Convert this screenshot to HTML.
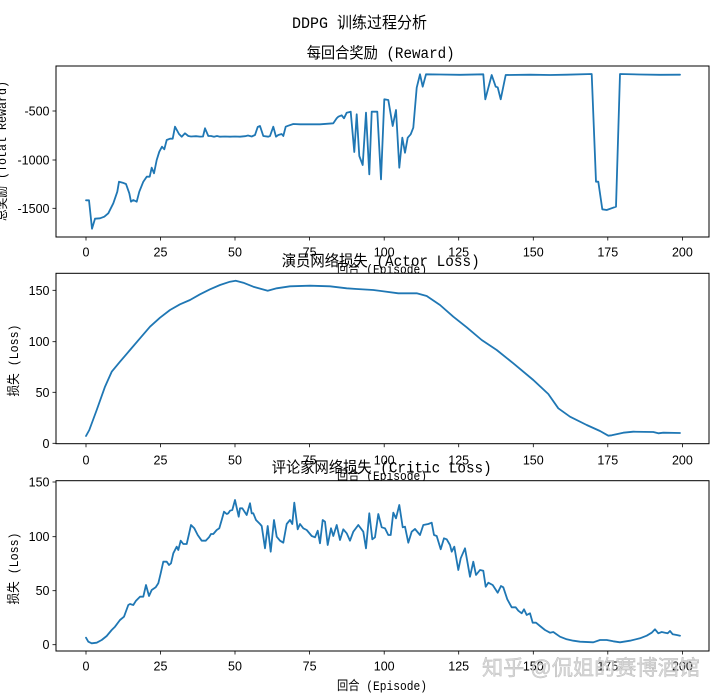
<!DOCTYPE html>
<html><head><meta charset="utf-8"><style>
html,body{margin:0;padding:0;background:#fff;}
svg{display:block;}
.t{font-family:"Liberation Mono","Noto Sans CJK SC",monospace;fill:#000;}
.k{font-family:"Liberation Sans","Noto Sans CJK SC",sans-serif;font-size:12.5px;fill:#000;}
.l{font-family:"Liberation Mono","Noto Sans CJK SC",monospace;font-size:13px;fill:#000;}
.ln{fill:none;stroke:#1f77b4;stroke-width:1.8;stroke-linejoin:round;stroke-linecap:round;}
.sp{fill:none;stroke:#000;stroke-width:1;}
.tk{stroke:#000;stroke-width:0.8;}
</style></head><body>
<svg width="720" height="698" viewBox="0 0 720 698" xmlns="http://www.w3.org/2000/svg">
<rect width="720" height="698" fill="#fff"/>
<text class="t" x="292" y="28" font-size="16" textLength="135" lengthAdjust="spacingAndGlyphs">DDPG 训练过程分析</text>

<!-- AXES 1 -->
<rect x="56" y="66" width="653" height="171" fill="#fff"/>
<polyline class="ln" points="86,200.3 89,200.3 92,228.7 95,218.7 100,218.3 104.3,216.7 108.3,213.3 113.3,203.3 117.3,191.7 119,181.7 122.7,182.7 126,184 129.3,193.3 131,201.7 133.3,200 136.7,201.7 139.3,191.7 143.3,181.7 146.7,176.7 149.7,176.7 151.7,167.7 154,173.3 156.7,160 159.3,151.7 162,146.7 164.3,149.3 166.7,140 170,138.7 172.7,138.7 175,126.7 179,134 181.7,136.7 185,133.3 188.3,136 191,136.5 196,136.2 200,136.6 203,136.5 205,128.3 208.3,136 211,136 214,136.7 217,136 220,136.7 225,136.5 230,136.7 235,136.5 240,136.7 245,136.2 248,135.5 251.7,136.5 255,135 257.7,127 260,126 263.3,136 268.3,136.7 270,136 273.3,126.7 276,136.7 278.3,135 281.7,134 283.3,136 285.7,126.7 288.3,125.7 293.3,124 300,124.3 310,124.3 320,124.3 333.3,123.3 336.7,118.3 338.3,116.7 341.7,115.3 344,118.3 346.7,112.7 350.7,111.7 354.3,152 356.7,114.3 359.3,156 362.7,165 366,112.7 369.3,174.3 371.7,111.7 377.3,111.7 381,179.3 384.3,99.3 388.3,100 392.7,126 396,110 399.3,167.7 402.3,137.7 405,152.7 407.7,137.7 410.7,134.3 413.3,127.7 416.7,87.7 420,74.3 422.7,86.7 426,74.3 440,74.5 460,74.8 483.3,74.3 485.3,99.3 491.7,75 495.7,86.7 497.7,87.3 500.7,99.3 505.7,75 530,74.7 550,75 566.7,74.7 591.7,74 596,181.7 598.3,181.7 602.3,209.3 606.7,210 616,206.7 620,74 640,74.5 660,74.8 680,74.7"/>
<rect class="sp" x="56" y="66" width="653" height="171"/>
<g class="tk">
<line x1="86" y1="237" x2="86" y2="240.5"/><line x1="160.5" y1="237" x2="160.5" y2="240.5"/><line x1="235" y1="237" x2="235" y2="240.5"/><line x1="309.6" y1="237" x2="309.6" y2="240.5"/><line x1="384.2" y1="237" x2="384.2" y2="240.5"/><line x1="458.7" y1="237" x2="458.7" y2="240.5"/><line x1="533.3" y1="237" x2="533.3" y2="240.5"/><line x1="607.8" y1="237" x2="607.8" y2="240.5"/><line x1="682.4" y1="237" x2="682.4" y2="240.5"/>
<line x1="52.5" y1="111" x2="56" y2="111"/><line x1="52.5" y1="160" x2="56" y2="160"/><line x1="52.5" y1="208.3" x2="56" y2="208.3"/>
</g>
<g class="k" text-anchor="middle">
<text x="86" y="256.5">0</text><text x="160.5" y="256.5">25</text><text x="235" y="256.5">50</text><text x="309.6" y="256.5">75</text><text x="384.2" y="256.5">100</text><text x="458.7" y="256.5">125</text><text x="533.3" y="256.5">150</text><text x="607.8" y="256.5">175</text><text x="682.4" y="256.5">200</text>
</g>
<g class="k" text-anchor="end">
<text x="49.5" y="115.5">-500</text><text x="49.5" y="164.5">-1000</text><text x="49.5" y="212.8">-1500</text>
</g>
<text class="t" x="306.7" y="58" font-size="15.5" textLength="148" lengthAdjust="spacingAndGlyphs">每回合奖励 (Reward)</text>
<text class="l" transform="translate(6,151) rotate(-90)" text-anchor="middle" textLength="140" lengthAdjust="spacingAndGlyphs">总奖励 (Total Reward)</text>
<text class="l" x="337" y="273.3" textLength="90" lengthAdjust="spacingAndGlyphs">回合 (Episode)</text>

<!-- AXES 2 -->
<rect x="56" y="273.3" width="653" height="170.4" fill="#fff"/>
<polyline class="ln" points="86,436 89.3,430 96.7,410 105,386.7 111.7,371.7 120,361.7 130,350 140,338.3 150,326.7 160,317.7 170,310 180,304.3 190,300 200,294.3 210,289.3 220,285 230,281.7 235.7,280.7 243.3,282.7 253.3,286.7 267.7,290.7 276.7,288.3 290,286.3 310,285.7 330,286.3 346.7,288.3 356.7,289 373.3,290 398.3,293.3 416.7,293.3 426.7,296 440,305 453.3,316.7 466.7,327.3 481.7,340 496.7,350 513.3,363.3 533.3,380 548.3,394 558.3,408.3 570,416.7 586.7,425 600,431 608.3,435.7 611.7,435.3 623.3,432.7 633.3,431.7 653.3,432 658.3,433.3 663.3,432.7 680,433"/>
<rect class="sp" x="56" y="273.3" width="653" height="170.4"/>
<g class="tk">
<line x1="86" y1="443.7" x2="86" y2="447.2"/><line x1="160.5" y1="443.7" x2="160.5" y2="447.2"/><line x1="235" y1="443.7" x2="235" y2="447.2"/><line x1="309.6" y1="443.7" x2="309.6" y2="447.2"/><line x1="384.2" y1="443.7" x2="384.2" y2="447.2"/><line x1="458.7" y1="443.7" x2="458.7" y2="447.2"/><line x1="533.3" y1="443.7" x2="533.3" y2="447.2"/><line x1="607.8" y1="443.7" x2="607.8" y2="447.2"/><line x1="682.4" y1="443.7" x2="682.4" y2="447.2"/>
<line x1="52.5" y1="443.3" x2="56" y2="443.3"/><line x1="52.5" y1="392.3" x2="56" y2="392.3"/><line x1="52.5" y1="341.7" x2="56" y2="341.7"/><line x1="52.5" y1="290.3" x2="56" y2="290.3"/>
</g>
<g class="k" text-anchor="middle">
<text x="86" y="464.5">0</text><text x="160.5" y="464.5">25</text><text x="235" y="464.5">50</text><text x="309.6" y="464.5">75</text><text x="384.2" y="464.5">100</text><text x="458.7" y="464.5">125</text><text x="533.3" y="464.5">150</text><text x="607.8" y="464.5">175</text><text x="682.4" y="464.5">200</text>
</g>
<g class="k" text-anchor="end">
<text x="49.5" y="447.8">0</text><text x="49.5" y="396.8">50</text><text x="49.5" y="346.2">100</text><text x="49.5" y="294.8">150</text>
</g>
<text class="t" x="281.7" y="266" font-size="15.5" textLength="198" lengthAdjust="spacingAndGlyphs">演员网络损失 (Actor Loss)</text>
<text class="l" transform="translate(18,360.5) rotate(-90)" text-anchor="middle" textLength="72" lengthAdjust="spacingAndGlyphs">损失 (Loss)</text>
<text class="l" x="337" y="480" textLength="90" lengthAdjust="spacingAndGlyphs">回合 (Episode)</text>

<!-- AXES 3 -->
<rect x="56" y="480.7" width="653" height="170.3" fill="#fff"/>
<polyline class="ln" points="86,637.7 88.3,641.7 91.7,643.3 96.7,642.7 101.7,640 106.7,636 111.7,630 115,626.7 120,620 124,616.7 128.3,605 130,604 133.3,605 136,600.7 140,596.7 143.3,596.7 146,585 149,596 151.7,590 155.7,587.3 158.3,583.3 160.7,573.3 163.3,561.7 166.7,561.7 169,565 171,563.3 173.3,553.3 176.7,546.7 178.3,550 180.7,540.7 183.3,544 186.7,544 189,534 191,525 194.3,528.3 197.7,535 201.7,540.7 205.7,540.7 209,537.3 211,534 213.3,534 216.7,530 219.3,528.3 221.7,520 224,511.7 226.7,514 228.3,513.3 230,510.7 232.3,510 235,500 238.7,516.7 240,508.3 242.3,508.3 246.7,515 250,503.3 251.7,513.3 253.3,513.3 256,520 260,524 261.7,526 265,548.3 267.7,526 270.7,551.7 274,520 276.7,536.7 280,540.7 283.3,542.7 286.7,524 290,520 292.3,524 294.3,502.7 297.7,529.3 300,524 303.3,528.3 306.7,530 311.7,536 315,537.3 317.7,530.7 320,543.3 322.7,520 325,521.7 327.7,545 331,528.3 333.3,536 336.7,525 340,540 343.3,529.3 346.7,533.3 350,540.7 353.3,531.7 358.3,525 363.3,531.7 366,548.3 369.3,513.3 372.3,539.3 375,537.3 378.3,514 381.7,527.3 385,528.3 388.3,535 390.7,535 393.3,512.7 396,518.3 399.3,505 402.7,527.3 405,526.7 408.3,542.7 411.7,531.7 415,529 420,535 423.3,525 428.3,524 431.7,522.7 434,535 436.7,536 440.7,549.3 444,538.3 446.7,539.3 450,545 451.7,551.7 454.3,546.7 458.3,570 460.7,558.3 465,548.3 470,576.7 473.3,561.7 476,575 480,570 483.3,570.7 485.7,586.7 488.3,582.7 492.7,585 497.7,592.7 501,586 503.3,587.3 507.3,599.3 511.7,607.3 515.7,607.3 518.3,610.7 521.7,613.3 524,609.3 526.7,615 530,613.3 532.7,622.7 536,622.7 540,626 545,630 550,632.7 553.3,632 560,636.7 566.7,639.3 573.3,640.7 580,641.7 593.3,642.3 600,640 606.7,640 613.3,641.3 620,642.3 630,640.7 640,638.3 646.7,635.7 651.7,632.7 655,629.3 658.3,633.3 661.7,632 665,632.7 667.7,633.3 670,631 672.7,634.3 676.7,635 680,635.7"/>
<rect class="sp" x="56" y="480.7" width="653" height="170.3"/>
<g class="tk">
<line x1="86" y1="651" x2="86" y2="654.5"/><line x1="160.5" y1="651" x2="160.5" y2="654.5"/><line x1="235" y1="651" x2="235" y2="654.5"/><line x1="309.6" y1="651" x2="309.6" y2="654.5"/><line x1="384.2" y1="651" x2="384.2" y2="654.5"/><line x1="458.7" y1="651" x2="458.7" y2="654.5"/><line x1="533.3" y1="651" x2="533.3" y2="654.5"/><line x1="607.8" y1="651" x2="607.8" y2="654.5"/><line x1="682.4" y1="651" x2="682.4" y2="654.5"/>
<line x1="52.5" y1="644.7" x2="56" y2="644.7"/><line x1="52.5" y1="590.7" x2="56" y2="590.7"/><line x1="52.5" y1="536.7" x2="56" y2="536.7"/><line x1="52.5" y1="482" x2="56" y2="482"/>
</g>
<g class="k" text-anchor="middle">
<text x="86" y="670.5">0</text><text x="160.5" y="670.5">25</text><text x="235" y="670.5">50</text><text x="309.6" y="670.5">75</text><text x="384.2" y="670.5">100</text><text x="458.7" y="670.5">125</text><text x="533.3" y="670.5">150</text><text x="607.8" y="670.5">175</text><text x="682.4" y="670.5">200</text>
</g>
<g class="k" text-anchor="end">
<text x="49.5" y="649.2">0</text><text x="49.5" y="595.2">50</text><text x="49.5" y="541.2">100</text><text x="49.5" y="486.5">150</text>
</g>
<text class="t" x="271.7" y="472.5" font-size="15.5" textLength="220" lengthAdjust="spacingAndGlyphs">评论家网络损失 (Critic Loss)</text>
<text class="l" transform="translate(18,568.5) rotate(-90)" text-anchor="middle" textLength="72" lengthAdjust="spacingAndGlyphs">损失 (Loss)</text>
<text class="l" x="337" y="690" textLength="90" lengthAdjust="spacingAndGlyphs">回合 (Episode)</text>

<!-- watermark -->
<text x="482" y="675" font-family="'Liberation Sans','Noto Sans CJK SC',sans-serif" font-size="21" fill="#d2d2d2" fill-opacity="0.85" stroke="#b8b8b8" stroke-width="0.4" textLength="218" lengthAdjust="spacingAndGlyphs">知乎 @侃姐的赛博酒馆</text>
</svg>
</body></html>
